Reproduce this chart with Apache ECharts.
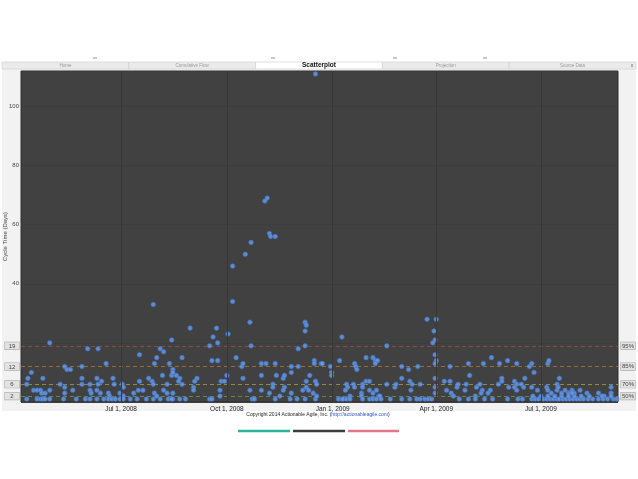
<!DOCTYPE html>
<html>
<head>
<meta charset="utf-8">
<script src="https://cdn.jsdelivr.net/npm/echarts@6/dist/echarts.min.js"></script>
<style>
html,body{margin:0;padding:0;background:#fff;}
#chart{width:638px;height:479px;}
</style>
</head>
<body>
<div id="chart"></div>
<script>
// ---- data ----
// x: days after the start date, y: cycle time in days
const startDate = '2008-04-05';
const endDate = '2009-09-06';
const xTickDates = ['2008-07-01', '2008-10-01', '2009-01-01', '2009-04-01', '2009-07-01'];
const xTickLabels = ['Jul 1, 2008', 'Oct 1, 2008', 'Jan 1, 2009', 'Apr 1, 2009', 'Jul 1, 2009'];
const yTickValues = [0, 40, 60, 80, 100];
const percentileValues = [19, 12, 6, 2];
const percentileLabels = ['95%', '85%', '70%', '50%'];
const percentileColors = ['#8a4b3c', '#9a6b35', '#8f8a44', '#5f8a4c'];

const spring2008 = [
  [25,20],[58,18],[67,18],[103,16],[121,18],[124,17],[131,21],[118,15],[116,13],[74,13],[38,12],[40,11],[43,11],[53,12],
  [9,10],[6,8],[19,8],[5,6],[53,8],[53,6],[66,8],[67,6],[70,7],[80,8],[81,6],[88,6],[89,5],[103,7],[111,8],[114,7],
  [115,6],[123,9],[131,9],[127,6],[34,6],[60,6],[38,5],[38,3],[45,4],[11,4],[14,4],[17,4],[18,3],[21,3],[25,4],[60,4],
  [61,3],[66,4],[69,3],[76,3],[77,2],[86,3],[89,2],[98,3],[102,4],[106,4],[116,3],[118,2],[124,4],[127,3],[132,3],
  [5,1],[14,1],[17,1],[19,1],[21,1],[25,1],[37,1],[48,1],[56,1],[60,1],[66,1],[72,1],[76,1],[79,1],[82,1],[86,1],
  [89,1],[95,1],[101,1],[109,1],[115,1],[121,1],[128,1],[132,1],[115,33]
];
const autumn2008 = [
  [147,25],[170,25],[199,27],[247,27],[248,26],[247,24],[167,22],[180,23],[171,20],[164,19],[200,19],[241,18],[247,19],
  [140,15],[187,15],[166,14],[171,14],[192,12],[193,13],[209,13],[213,13],[221,13],[235,12],[235,10],[241,12],[255,14],
  [255,13],[261,13],[132,11],[132,10],[138,8],[135,9],[137,7],[140,6],[153,8],[151,7],[150,5],[150,4],[174,7],[177,7],
  [173,4],[173,2],[179,9],[193,8],[199,4],[201,1],[203,1],[209,9],[209,4],[216,3],[219,6],[219,5],[222,9],[228,8],
  [229,9],[229,5],[228,4],[235,3],[248,7],[251,9],[256,7],[257,6],[245,4],[248,5],[250,4],[254,3],[129,13],
  [131,1],[138,1],[143,1],[164,1],[166,1],[221,1],[234,1],[240,1],[247,1],[256,1],[225,2],[257,2],
  [184,34],[184,46],[195,50],[200,54],[212,68],[214,69],[216,57],[217,56],[221,56],[256,111]
];
const winter2009 = [
  [353,28],[361,28],[360,21],[358,20],[359,24],[279,22],[318,19],[360,16],[361,14],[360,13],[262,13],[269,12],[270,10],
  [270,9],[277,14],[290,13],[291,12],[292,11],[300,15],[306,15],[308,14],[310,14],[308,13],[331,12],[337,11],[345,12],
  [373,12],[389,13],[390,9],[283,6],[284,5],[282,4],[289,6],[290,5],[297,6],[300,7],[303,7],[297,5],[296,3],[296,2],
  [303,4],[306,3],[309,4],[311,2],[312,2],[318,6],[325,5],[326,6],[331,8],[338,7],[340,6],[339,4],[347,6],[360,8],
  [360,5],[360,3],[368,7],[373,7],[370,4],[374,3],[379,5],[380,6],[387,6],[386,4],[376,2],[381,1],[389,1],[286,2],
  [276,1],[279,1],[280,1],[283,1],[286,1],[297,1],[303,1],[306,1],[309,1],[313,1],[321,1],[331,1],[338,1],[344,1],
  [347,1],[351,1],[354,1],[357,1]
];
const summer2009 = [
  [409,15],[402,13],[416,13],[423,14],[431,13],[442,12],[444,13],[458,13],[459,14],[446,10],[418,8],[418,7],[438,8],
  [468,8],[396,5],[399,6],[401,4],[408,4],[406,3],[415,6],[424,5],[429,7],[431,6],[429,5],[431,4],[435,6],[437,5],
  [444,5],[449,4],[457,5],[458,4],[466,6],[466,4],[467,5],[473,4],[476,3],[479,4],[481,3],[486,4],[492,3],[502,3],
  [513,5],[513,3],[507,2],[395,2],[400,3],
  [395,1],[403,1],[410,1],[423,1],[432,1],[436,1],[444,1],[447,1],[450,1],[454,1],[457,1],[460,1],[463,1],[466,1],
  [468,1],[471,1],[474,1],[477,1],[480,1],[483,1],[486,1],[489,1],[493,1],[497,1],[502,1],[506,1],[510,1],[515,1],[518,1],
  [445,2],[452,2],[458,2],[464,2],[470,2],[476,2],[481,2],[487,2],[494,2],[505,2],[513,2],
  [461,3],[470,3],[479,3]
];
const tabNames = ['Home', 'Cumulative Flow', 'Scatterplot', 'Projection', 'Source Data'];
const activeTab = 'Scatterplot';

// ---- build ----
function parseDate(s) { const p = s.split('-').map(Number); return Date.UTC(p[0], p[1] - 1, p[2]); }
const DAY = 86400000;
const startTs = parseDate(startDate);
const spanDays = Math.round((parseDate(endDate) - startTs) / DAY);
const tickDays = xTickDates.map(s => Math.round((parseDate(s) - startTs) / DAY));
const allPoints = [].concat(spring2008, autumn2008, winter2009, summer2009);
const yLabelValues = yTickValues.concat(percentileValues).sort((a, b) => a - b);

const chart = echarts.init(document.getElementById('chart'), null, { renderer: 'canvas' });

const tabW = 634 / tabNames.length;
const tabGraphics = [];
tabNames.forEach((name, i) => {
  const x0 = 2 + i * tabW;
  const active = name === activeTab;
  tabGraphics.push({
    type: 'rect', shape: { x: x0, y: 62, width: tabW, height: 7 },
    style: { fill: active ? '#ffffff' : '#ebebeb', stroke: '#cccccc', lineWidth: 0.6 }
  });
  tabGraphics.push({
    type: 'text', x: x0 + tabW / 2, y: 65.6,
    style: {
      text: name, align: 'center', verticalAlign: 'middle',
      fontSize: active ? 6.5 : 4.5, fontWeight: active ? 'bold' : 'normal',
      fill: active ? '#111' : '#999', fontFamily: 'Liberation Sans, Arial, sans-serif'
    }
  });
});

const option = {
  animation: false,
  backgroundColor: '#ffffff',
  textStyle: { fontFamily: 'Liberation Sans, Arial, sans-serif' },
  grid: {
    left: 21, right: 20, top: 71, bottom: 77,
    outerBoundsMode: 'none', containLabel: false,
    show: true, backgroundColor: '#414141', borderColor: '#2f2f2f', borderWidth: 1
  },
  xAxis: {
    type: 'value', min: 0, max: spanDays,
    axisLine: { show: false },
    axisTick: { show: false, customValues: tickDays },
    axisLabel: {
      customValues: tickDays, fontSize: 6.5, color: '#222', margin: 4,
      formatter: v => { const i = tickDays.indexOf(v); return i >= 0 ? xTickLabels[i] : ''; }
    },
    splitLine: { show: false }
  },
  yAxis: {
    type: 'value', min: 0, max: 112, interval: 20,
    name: 'Cycle Time (Days)', nameLocation: 'middle', nameGap: 13, nameMoveOverlap: false,
    nameTextStyle: { fontSize: 6, color: '#444' },
    axisLine: { show: false }, axisTick: { show: false },
    splitLine: { show: true, lineStyle: { color: '#3c3c3c' } },
    axisLabel: {
      customValues: yLabelValues, fontSize: 6, color: '#444', margin: 2,
      formatter: v => percentileValues.indexOf(v) >= 0 ? '{box|' + v + '}' : String(v),
      rich: {
        box: {
          fontSize: 6, color: '#444', backgroundColor: '#e2e2e2', borderColor: '#a8a8a8',
          borderWidth: 0.6, padding: [1, 2, 0, 2], width: 10, align: 'center'
        }
      }
    }
  },
  series: [{
    type: 'scatter', z: 1, data: [], silent: true,
    markLine: {
      silent: true, symbol: ['none', 'none'], label: { show: false },
      lineStyle: { color: '#373737', type: 'solid', width: 1 },
      data: tickDays.map(d => ({ xAxis: d }))
    }
  }, {
    type: 'scatter', z: 3,
    data: allPoints,
    symbol: 'circle', symbolSize: 4.6,
    itemStyle: { color: '#6b9fe8', borderColor: '#3f70c4', borderWidth: 0.8 },
    markLine: {
      silent: true, symbol: ['none', 'none'], z: 1,
      label: {
        show: true, position: 'end', distance: 3, fontSize: 6, color: '#444',
        backgroundColor: '#e2e2e2', borderColor: '#a8a8a8', borderWidth: 0.6, padding: [1, 1, 0, 1]
      },
      data: percentileValues.map((v, i) => ({
        yAxis: v,
        lineStyle: { color: percentileColors[i], type: [4, 3], width: 1 },
        label: { formatter: percentileLabels[i] }
      }))
    }
  }],
  graphic: [
    { type: 'rect', z: -100, shape: { x: 2, y: 62, width: 634, height: 349 }, style: { fill: '#f2f2f2' } },
    ...tabGraphics,
    { type: 'text', x: 632, y: 65.6, style: { text: 'x', fontSize: 5, fill: '#666', align: 'center', verticalAlign: 'middle' } },
    { type: 'line', shape: { x1: 93, y1: 58, x2: 97, y2: 58 }, style: { stroke: '#777', lineWidth: 0.8 } },
    { type: 'line', shape: { x1: 271, y1: 58, x2: 275, y2: 58 }, style: { stroke: '#777', lineWidth: 0.8 } },
    { type: 'line', shape: { x1: 393, y1: 58, x2: 397, y2: 58 }, style: { stroke: '#777', lineWidth: 0.8 } },
    { type: 'line', shape: { x1: 483, y1: 58, x2: 487, y2: 58 }, style: { stroke: '#777', lineWidth: 0.8 } },
    {
      type: 'text', x: 318, y: 415,
      style: {
        text: '{a|Copyright 2014 Actionable Agile, Inc. (}{b|http://actionableagile.com}{a|)}',
        align: 'center', verticalAlign: 'middle',
        rich: {
          a: { fontSize: 5, fill: '#222', fontFamily: 'Liberation Sans, Arial, sans-serif' },
          b: { fontSize: 5, fill: '#3355bb', fontFamily: 'Liberation Sans, Arial, sans-serif' }
        }
      }
    },
    { type: 'line', shape: { x1: 238, y1: 431, x2: 290, y2: 431 }, style: { stroke: '#2bb59c', lineWidth: 2.5 } },
    { type: 'line', shape: { x1: 293, y1: 431, x2: 345, y2: 431 }, style: { stroke: '#3d3d3d', lineWidth: 2.5 } },
    { type: 'line', shape: { x1: 348, y1: 431, x2: 399, y2: 431 }, style: { stroke: '#e4788a', lineWidth: 2.5 } }
  ]
};
chart.setOption(option);
</script>
</body>
</html>
